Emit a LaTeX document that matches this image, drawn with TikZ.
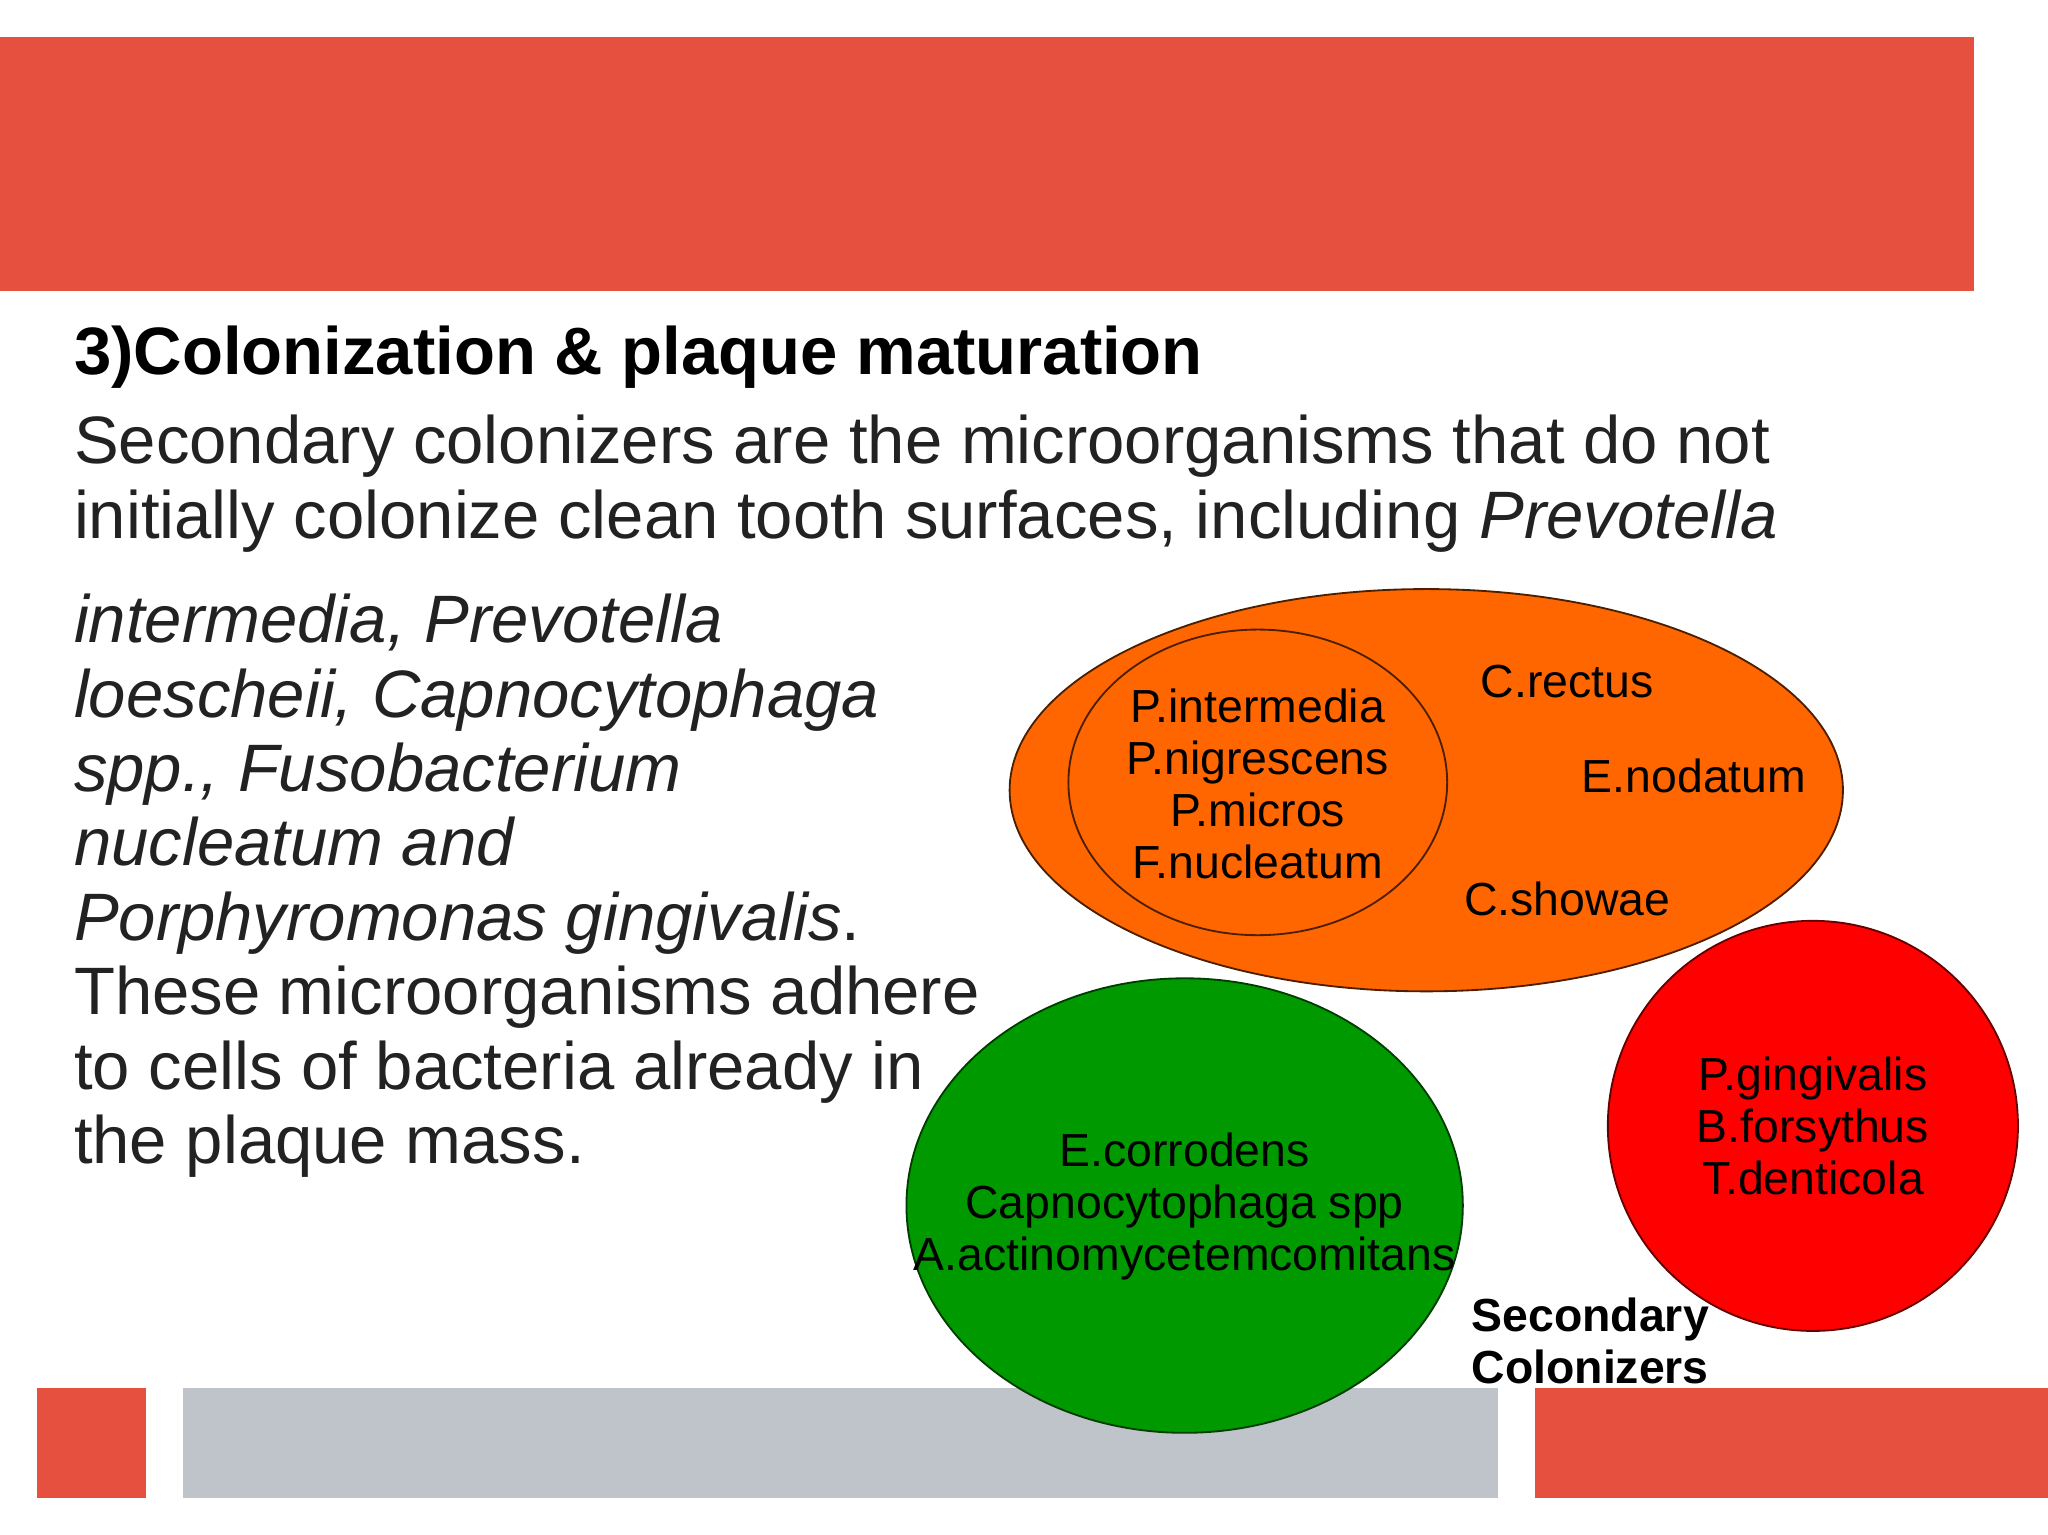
\documentclass[tikz,border=0pt]{standalone}
\usepackage{fontspec}
\setmainfont{Liberation Sans}
\definecolor{barred}{HTML}{E6503F}
\definecolor{bargray}{HTML}{BFC3CA}
\definecolor{orng}{HTML}{FF6600}
\definecolor{grn}{HTML}{009900}
\definecolor{txt}{HTML}{222222}
\begin{document}
\begin{tikzpicture}[x=0.01cm,y=-0.01cm,
  body/.style={anchor=base west,font=\fontsize{14.6}{16}\selectfont,text=txt,inner sep=0},
  lbl/.style={align=center,font=\fontsize{10.1}{11.3}\selectfont,inner sep=0}]
\useasboundingbox (0,0) rectangle (1568,1175);
\fill[white] (0,0) rectangle (1568,1175);
\fill[barred] (0,28) rectangle (1511,223);
\fill[barred] (28,1063) rectangle (112,1147);
\fill[bargray] (140,1063) rectangle (1147,1147);
\fill[barred] (1175,1063) rectangle (1568,1147);
\node[body,font=\bfseries\fontsize{14.6}{16}\selectfont,text=black] (title) at (56,287) {3)Colonization \& plaque maturation};
\node[body] (l1) at (56,355) {Secondary colonizers are the microorganisms that do not};
\node[body] (l2) at (56,412) {initially colonize clean tooth surfaces, including \textit{Prevotella}};
\node[body] (l3) at (56,492) {\textit{intermedia, Prevotella}};
\node[body] (l4) at (56,549) {\textit{loescheii, Capnocytophaga}};
\node[body] (l5) at (56,606) {\textit{spp., Fusobacterium}};
\node[body] (l6) at (56,663) {\textit{nucleatum and}};
\node[body] (l7) at (56,720) {\textit{Porphyromonas gingivalis}.};
\node[body] (l8) at (56,777) {These microorganisms adhere};
\node[body] (l9) at (56,834) {to cells of bacteria already in};
\node[body] (l10) at (56,891) {the plaque mass.};
\draw[fill=orng,draw=black!70!orng,line width=0.4pt] (1092,605) ellipse [x radius=319,y radius=154];
\draw[draw=black!70!orng,line width=0.4pt] (963,599) ellipse [x radius=145,y radius=117];
\node[lbl] (inner) at (963,600) {P.intermedia\\P.nigrescens\\P.micros\\F.nucleatum};
\node[lbl] (cr) at (1200,522) {C.rectus};
\node[lbl] (en) at (1297,594) {E.nodatum};
\node[lbl] (cs) at (1200,688) {C.showae};
\draw[fill=grn,draw=black!60!grn,line width=0.4pt] (907,923) ellipse [x radius=213,y radius=174];
\node[lbl] (g) at (907,924) {E.corrodens\\Capnocytophaga spp\\A.actinomycetemcomitans};
\draw[fill=red,draw=black!60!red,line width=0.4pt] (1388,862) circle [radius=157];
\node[lbl] (r) at (1388,862) {P.gingivalis\\B.forsythus\\T.denticola};
\node[lbl,align=left,anchor=north west,font=\bfseries\fontsize{10.1}{11.3}\selectfont] (sc) at (1126,993) {Secondary\\Colonizers};
\end{tikzpicture}
\end{document}
